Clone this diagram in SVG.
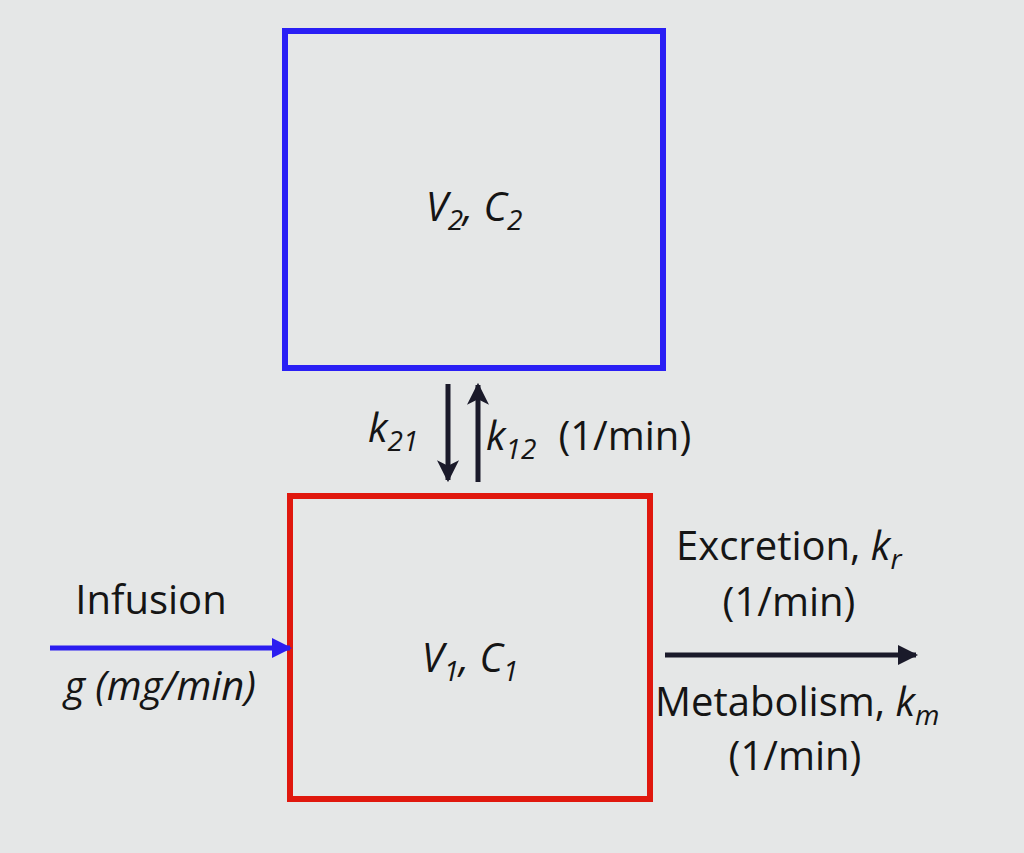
<svg xmlns="http://www.w3.org/2000/svg" width="1024" height="853" viewBox="0 0 1024 853">
<defs>
<style>
text{font-family:"Open Sans","Liberation Sans",sans-serif;font-size:40px;fill:#151515}
.it{font-style:italic}
.sub{font-size:28px}
.box{fill:none;stroke-width:6}
</style>
<marker id="ab" viewBox="0 0 10 10" refX="9" refY="5" markerWidth="4" markerHeight="4.4" orient="auto" markerUnits="strokeWidth"><path d="M0,0 L10,5 L0,10 z" fill="#1a1a2a"/></marker>
<marker id="abv" viewBox="0 0 10 10" refX="9" refY="5" markerWidth="4.4" markerHeight="5" orient="auto" markerUnits="strokeWidth"><path d="M0,0 L10,5 L0,10 L2.5,5 z" fill="#1a1a2a"/></marker>
<marker id="abl" viewBox="0 0 10 10" refX="9" refY="5" markerWidth="4" markerHeight="4" orient="auto" markerUnits="strokeWidth"><path d="M0,0 L10,5 L0,10 z" fill="#2b1df0"/></marker>
</defs>
<rect width="1024" height="853" fill="#e5e7e7"/>
<g id="compartment2">
<rect class="box" x="285" y="31" width="378" height="337" stroke="#2a1ff5"/>
<text class="it" x="474" y="221" text-anchor="middle">V<tspan class="sub" dy="9">2</tspan><tspan dy="-9">, C</tspan><tspan class="sub" dy="9">2</tspan></text>
</g>
<g id="compartment1">
<rect class="box" x="290" y="496" width="360" height="303" stroke="#e0180e"/>
<text class="it" x="470" y="672" text-anchor="middle">V<tspan class="sub" dy="9">1</tspan><tspan dy="-9">, C</tspan><tspan class="sub" dy="9">1</tspan></text>
</g>
<g id="connectors">
<line x1="448" y1="384" x2="448" y2="480" stroke="#1a1a2a" stroke-width="5" marker-end="url(#abv)"/>
<line x1="478" y1="482" x2="478" y2="385" stroke="#1a1a2a" stroke-width="5" marker-end="url(#abv)"/>
<line x1="50" y1="648" x2="290" y2="648" stroke="#2b1df0" stroke-width="5" marker-end="url(#abl)"/>
<line x1="665" y1="655" x2="916" y2="655" stroke="#1a1a2a" stroke-width="5" marker-end="url(#ab)"/>
</g>
<g id="labels">
<text class="it" x="368" y="442">k<tspan class="sub" dy="9">21</tspan></text>
<text x="486" y="450"><tspan class="it">k</tspan><tspan class="it sub" dy="9">12</tspan><tspan dy="-9" dx="22">(1/min)</tspan></text>
<text x="151" y="614" text-anchor="middle">Infusion</text>
<text class="it" x="160" y="700" text-anchor="middle">g (mg/min)</text>
<text x="676" y="560">Excretion, <tspan class="it">k</tspan><tspan class="it sub" dy="9">r</tspan></text>
<text x="789" y="616" text-anchor="middle">(1/min)</text>
<text x="655" y="716">Metabolism, <tspan class="it">k</tspan><tspan class="it sub" dy="9">m</tspan></text>
<text x="795" y="770" text-anchor="middle">(1/min)</text>
</g>
</svg>
